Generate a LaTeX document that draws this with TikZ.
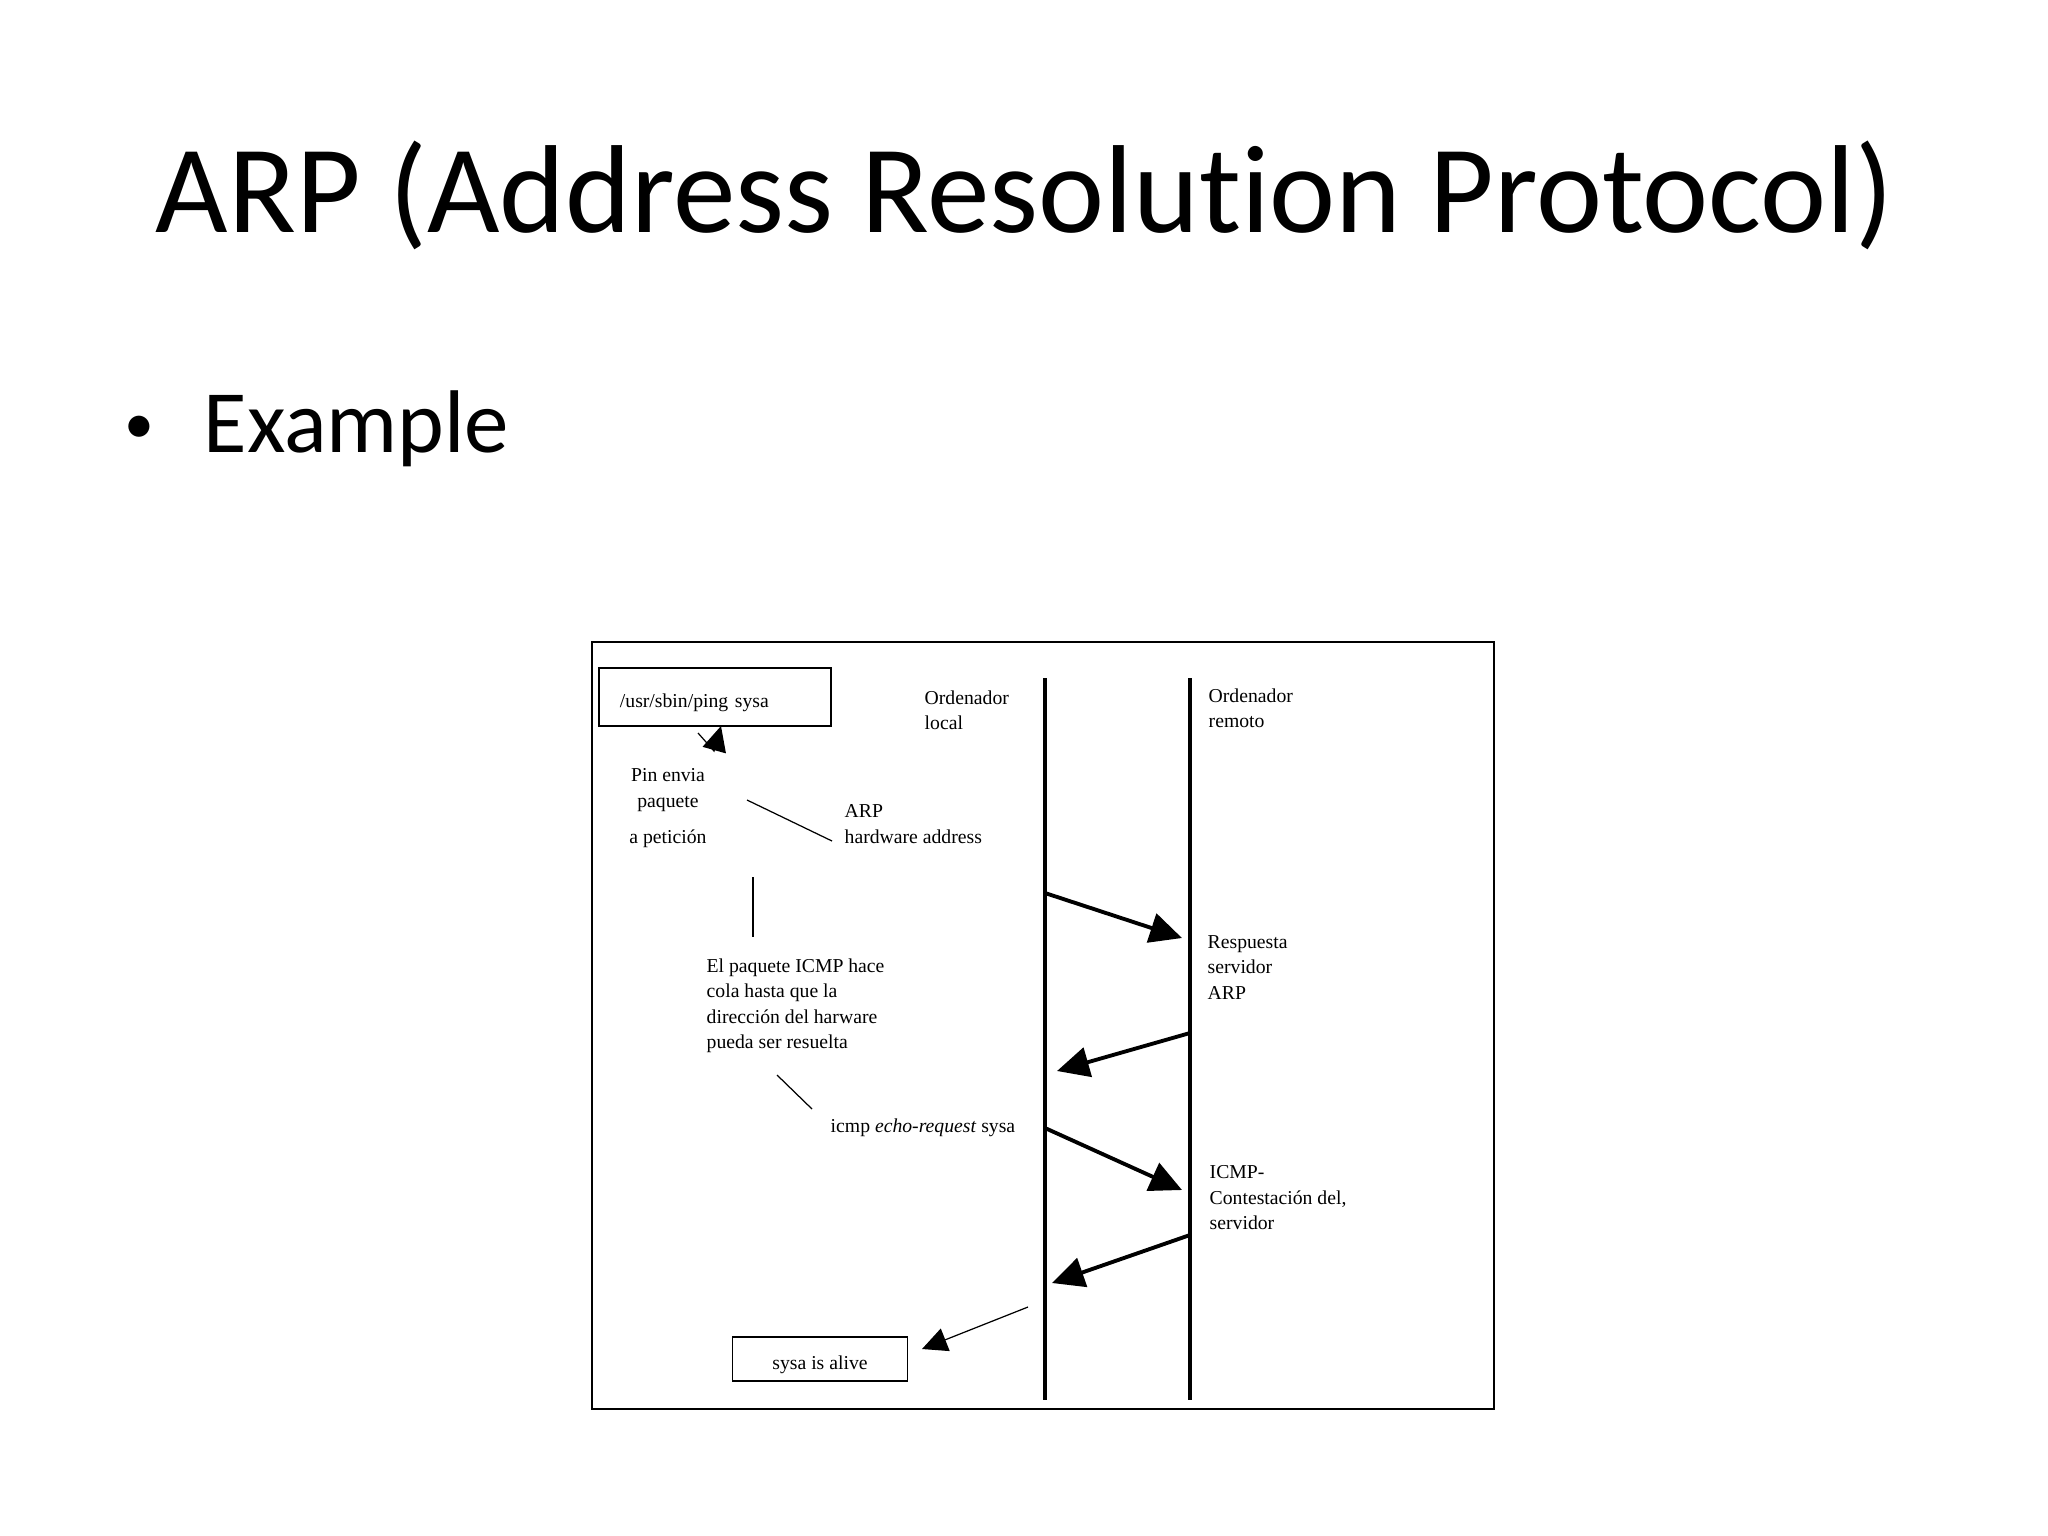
\documentclass[tikz,border=0pt]{standalone}
\usepackage{fontspec}
\setmainfont[Ligatures=NoCommon]{Carlito}
\newfontfamily\diafont{Liberation Serif}
\usetikzlibrary{arrows.meta}

\tikzset{
  frame/.style={line width=0.6pt},
  lbl/.style={font=\diafont\fontsize{5.6}{7.2}\selectfont, inner sep=0pt, align=left, anchor=north west},
  cmdbox/.style={draw, line width=0.5pt, font=\diafont\fontsize{5.6}{7.2}\selectfont, text height=5.7pt, text depth=0pt},
  lifeline/.style={line width=0.9pt},
  msg/.style={line width=1.1pt, -{Triangle[length=0.32cm,width=0.3cm]}},
  note/.style={line width=0.35pt},
  ptr/.style={note, -{Triangle[length=0.25cm,width=0.24cm]}},
}

\begin{document}
\begin{tikzpicture}[x=0.01cm, y=-0.01cm]
\useasboundingbox (0,0) rectangle (2048,1536);

% slide title
\node[anchor=base west, inner sep=0pt, font=\fontsize{35.6}{40}\selectfont] (title) at (155,232) {ARP (Address Resolution Protocol)};
\node[anchor=base, inner sep=0pt, font=\fontsize{17}{20}\selectfont] (bullet) at (139,443) {•};
\node[anchor=base west, inner sep=0pt, font=\fontsize{25.3}{30}\selectfont] (example) at (203,452) {Example};

% frame of the figure
\draw[frame] (592,642) rectangle (1494,1409);

% the two hosts
\coordinate (lt) at (1045,678);
\coordinate (lb) at (1045,1400);
\coordinate (rt) at (1190,678);
\coordinate (rb) at (1190,1400);
\draw[lifeline] (lt) -- (lb);
\draw[lifeline] (rt) -- (rb);

% labels
\node[cmdbox, minimum height=0.58cm, text width=1.9cm, inner xsep=0.21cm, align=left] (ping) at (715,697) {/usr/sbin/ping sysa};
\node[lbl] (local) at (924,690) {Ordenador\\local};
\node[lbl] (remote) at (1208,688) {Ordenador\\remoto};
\node[lbl, align=center, anchor=north] (pin) at (668,768) {Pin envia\\paquete\\[0.11cm]a petición};
\node[lbl] (arp) at (844,804) {ARP\\hardware address};
\node[lbl] (queue) at (706,958) {El paquete ICMP hace\\cola hasta que la\\dirección del harware\\pueda ser resuelta};
\node[lbl] (icmpreq) at (830,1118) {icmp \textit{echo-request} sysa};
\node[lbl] (resp) at (1207,935) {Respuesta\\servidor\\ARP};
\node[lbl] (contest) at (1209,1165) {ICMP-\\Contestación del,\\servidor};
\node[cmdbox, minimum width=1.75cm, minimum height=0.4cm] (alive) at (820,1359) {sysa is alive};

% pointers
\coordinate (p0) at (698,733);
\coordinate (p1) at (714,751);
\coordinate (p2) at (721,726);
\draw[ptr] (p0) -- (p1) -- (p2);
\coordinate (a0) at (747,800);
\coordinate (a1) at (832,841);
\draw[note] (a0) -- (a1);
\coordinate (v0) at (753,877);
\coordinate (v1) at (753,937);
\draw[note] (v0) -- (v1);
\coordinate (q0) at (777,1075);
\coordinate (q1) at (812,1109);
\draw[note] (q0) -- (q1);

% messages
\coordinate (m1s) at (1045,893);
\coordinate (m1e) at (1182,938);
\coordinate (m2s) at (1190,1033);
\coordinate (m2e) at (1057,1071);
\coordinate (m3s) at (1045,1128);
\coordinate (m3e) at (1182,1190);
\coordinate (m4s) at (1190,1235);
\coordinate (m4e) at (1052,1283);
\coordinate (m5s) at (1028,1307);
\coordinate (m5e) at (922,1349);
\draw[msg] (m1s) -- (m1e);
\draw[msg] (m2s) -- (m2e);
\draw[msg] (m3s) -- (m3e);
\draw[msg] (m4s) -- (m4e);
\draw[ptr] (m5s) -- (m5e);
\end{tikzpicture}
\end{document}
